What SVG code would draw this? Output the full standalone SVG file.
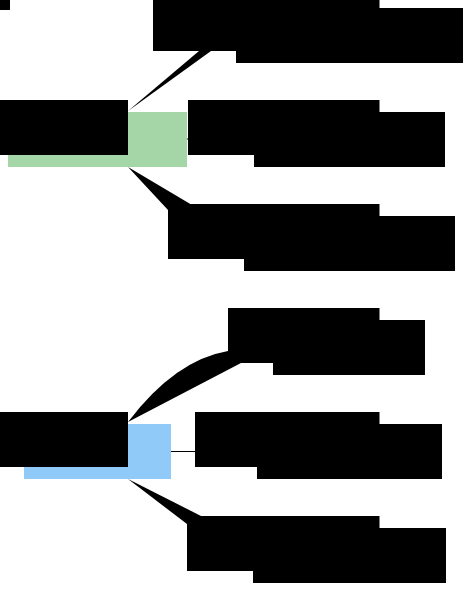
<svg xmlns="http://www.w3.org/2000/svg" width="470" height="590" viewBox="0 0 470 590">
  <style>
    .blk { fill: #000000; }
    .green { fill: #a5d6a7; }
    .blue { fill: #90caf9; }
    .branch { fill: #000000; stroke: none; }
    .thin { stroke: #000000; stroke-width: 1; fill: none; }
  </style>
  <rect width="470" height="590" fill="#ffffff"/>
  <g id="corner-mark">
    <rect class="blk" x="0" y="0" width="10" height="10"/>
  </g>
  <g id="connectors">
    <polygon class="branch" points="128,111 199,51 211,51"/>
    <polygon class="branch" points="128,167 192,205 168,205 168,210"/>
    <path class="thin" d="M187,139 L188,139"/>
    <path class="branch" d="M128,422 Q175,360 228,351 L241,363 Z"/>
    <polygon class="branch" points="128,479 205,518 187,524"/>
    <path class="thin" d="M171,451.5 L195,451.5"/>
  </g>
  <g id="root-green">
    <rect class="green" x="8" y="112" width="179" height="55"/>
    <rect class="blk" x="0" y="100" width="128" height="55"/>
  </g>
  <g id="green-child-1">
    <rect class="blk" x="153" y="-4" width="226.5" height="55"/>
    <rect class="blk" x="236" y="8" width="227" height="55"/>
  </g>
  <g id="green-child-2">
    <rect class="blk" x="188" y="100" width="191.5" height="55"/>
    <rect class="blk" x="254" y="112" width="191" height="55"/>
  </g>
  <g id="green-child-3">
    <rect class="blk" x="168" y="204" width="211.5" height="55"/>
    <rect class="blk" x="244" y="216" width="211" height="55"/>
  </g>
  <g id="root-blue">
    <rect class="blue" x="24" y="424" width="147" height="55"/>
    <rect class="blk" x="0" y="412" width="128" height="55"/>
  </g>
  <g id="blue-child-1">
    <rect class="blk" x="228" y="308" width="151.5" height="55"/>
    <rect class="blk" x="273" y="320" width="152" height="55"/>
  </g>
  <g id="blue-child-2">
    <rect class="blk" x="195" y="412" width="184.5" height="55"/>
    <rect class="blk" x="257" y="424" width="185" height="55"/>
  </g>
  <g id="blue-child-3">
    <rect class="blk" x="187" y="516" width="192.5" height="55"/>
    <rect class="blk" x="253" y="528" width="193" height="55"/>
  </g>
</svg>
